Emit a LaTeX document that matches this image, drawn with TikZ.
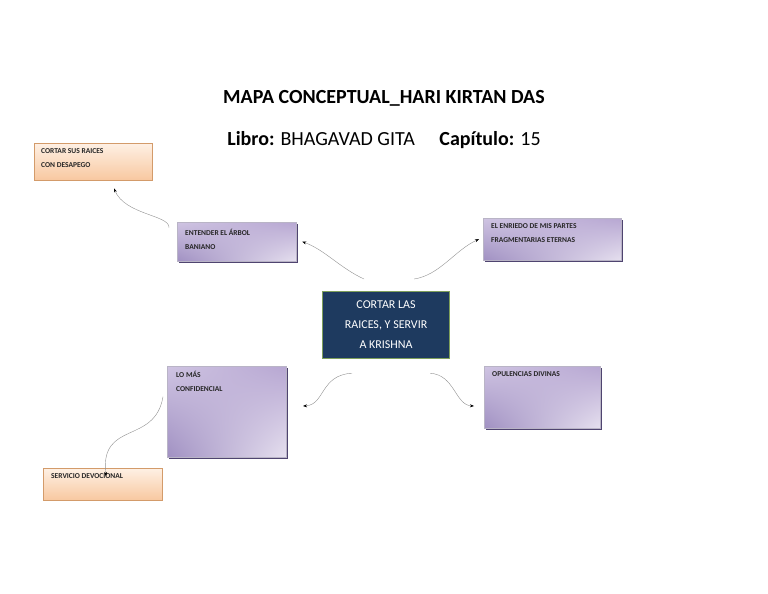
\documentclass[tikz,border=0pt]{standalone}
\usepackage{fontspec}
\setmainfont{Carlito}
\usetikzlibrary{arrows.meta,shadings}
\definecolor{navy}{HTML}{1E3A5F}
\definecolor{navyb}{HTML}{7E9F5A}
\definecolor{pshadow}{HTML}{4F4470}
\definecolor{pul}{HTML}{CFC4E2}
\definecolor{pur}{HTML}{B7A7D2}
\definecolor{pll}{HTML}{A090C2}
\definecolor{plr}{HTML}{E6E0EF}
\definecolor{oshadow}{HTML}{C0702A}
\definecolor{otop}{HTML}{FEF0E4}
\definecolor{obot}{HTML}{F8C8A0}
\definecolor{conn}{HTML}{909090}
\tikzset{
 x=1pt,y=-1pt,
 boxbase/.style={rectangle,inner sep=0pt,anchor=north west},
 pbox/.style={boxbase,shade,upper left=pul,upper right=pur,lower left=pll,lower right=plr,
   draw=pshadow!40,line width=0.3pt,
   preaction={fill=pshadow,transform canvas={shift={(1.6pt,-1.6pt)}}}},
 obox/.style={boxbase,shade,top color=otop,bottom color=obot,draw=oshadow!70,line width=0.4pt,
   preaction={fill=oshadow,transform canvas={shift={(1.2pt,-1.2pt)}}}},
 lbl/.style={anchor=north west,inner sep=0pt,align=left,font=\fontsize{7.5}{14}\selectfont\bfseries,text=black!85},
 conn/.style={draw=conn,line width=0.4pt,-{Stealth[length=4pt,width=3pt,black]}},
}
\begin{document}
\begin{tikzpicture}
\useasboundingbox (0,0) rectangle (768,594);
\node[font=\fontsize{20}{24}\selectfont\bfseries] (title) at (384,98) {MAPA CONCEPTUAL\_HARI KIRTAN DAS};
\node[font=\fontsize{20}{24}\selectfont] (sub) at (384,140) {\textbf{Libro:} BHAGAVAD GITA\quad\ \textbf{Capítulo:} 15};

\node[obox,minimum width=118,minimum height=37] (o1) at (34,143) {};
\node[lbl] at (41,148) {CORTAR SUS RAICES\\CON DESAPEGO};
\node[pbox,minimum width=119,minimum height=39] (p1) at (177,222) {};
\node[lbl] at (185,229) {ENTENDER EL ÁRBOL\\BANIANO};
\node[pbox,minimum width=138,minimum height=42] (p2) at (483,218) {};
\node[lbl] at (491,223) {EL ENRIEDO DE MIS PARTES\\FRAGMENTARIAS ETERNAS};
\node[boxbase,fill=navy,draw=navyb,line width=1.2pt,minimum width=127,minimum height=67] (c) at (322,291) {};
\node[align=center,text=white,font=\fontsize{12}{20}\selectfont] at (c.center) {CORTAR LAS\\RAICES, Y SERVIR\\A KRISHNA};
\node[pbox,minimum width=119,minimum height=91] (p3) at (167,366) {};
\node[lbl] at (176,371) {LO MÁS\\CONFIDENCIAL};
\node[pbox,minimum width=116,minimum height=62] (p4) at (484,366) {};
\node[lbl] at (492,371) {OPULENCIAS DIVINAS};
\node[obox,minimum width=119,minimum height=32] (o2) at (43,468) {};
\node[lbl] at (51,473) {SERVICIO DEVOCIONAL};

\coordinate (c1) at ([shift={(42,-12)}]c.north west);
\coordinate (c2) at ([shift={(-36,-12)}]c.north east);
\coordinate (c3) at ([shift={(30,14)}]c.south west);
\coordinate (c4) at ([shift={(-20,14)}]c.south east);
\draw[conn] (c1) .. controls (340,268) and (325,250) .. ([xshift=6]p1.east);
\draw[conn] (c2) .. controls (440,275) and (455,250) .. ([xshift=-4]p2.west);
\draw[conn] (c3) .. controls (320,375) and (325,405) .. (303,406);
\draw[conn] (c4) .. controls (455,375) and (455,405) .. (474,406);
\draw[conn] ([shift={(-8,-14)}]p1.west) .. controls (170,215) and (125,215) .. ([xshift=80,yshift=-8]o1.south west);
\draw[conn] ([shift={(-4,-15)}]p3.west) .. controls (155,445) and (100,420) .. ([xshift=63,yshift=-8]o2.north west);
\end{tikzpicture}
\end{document}
